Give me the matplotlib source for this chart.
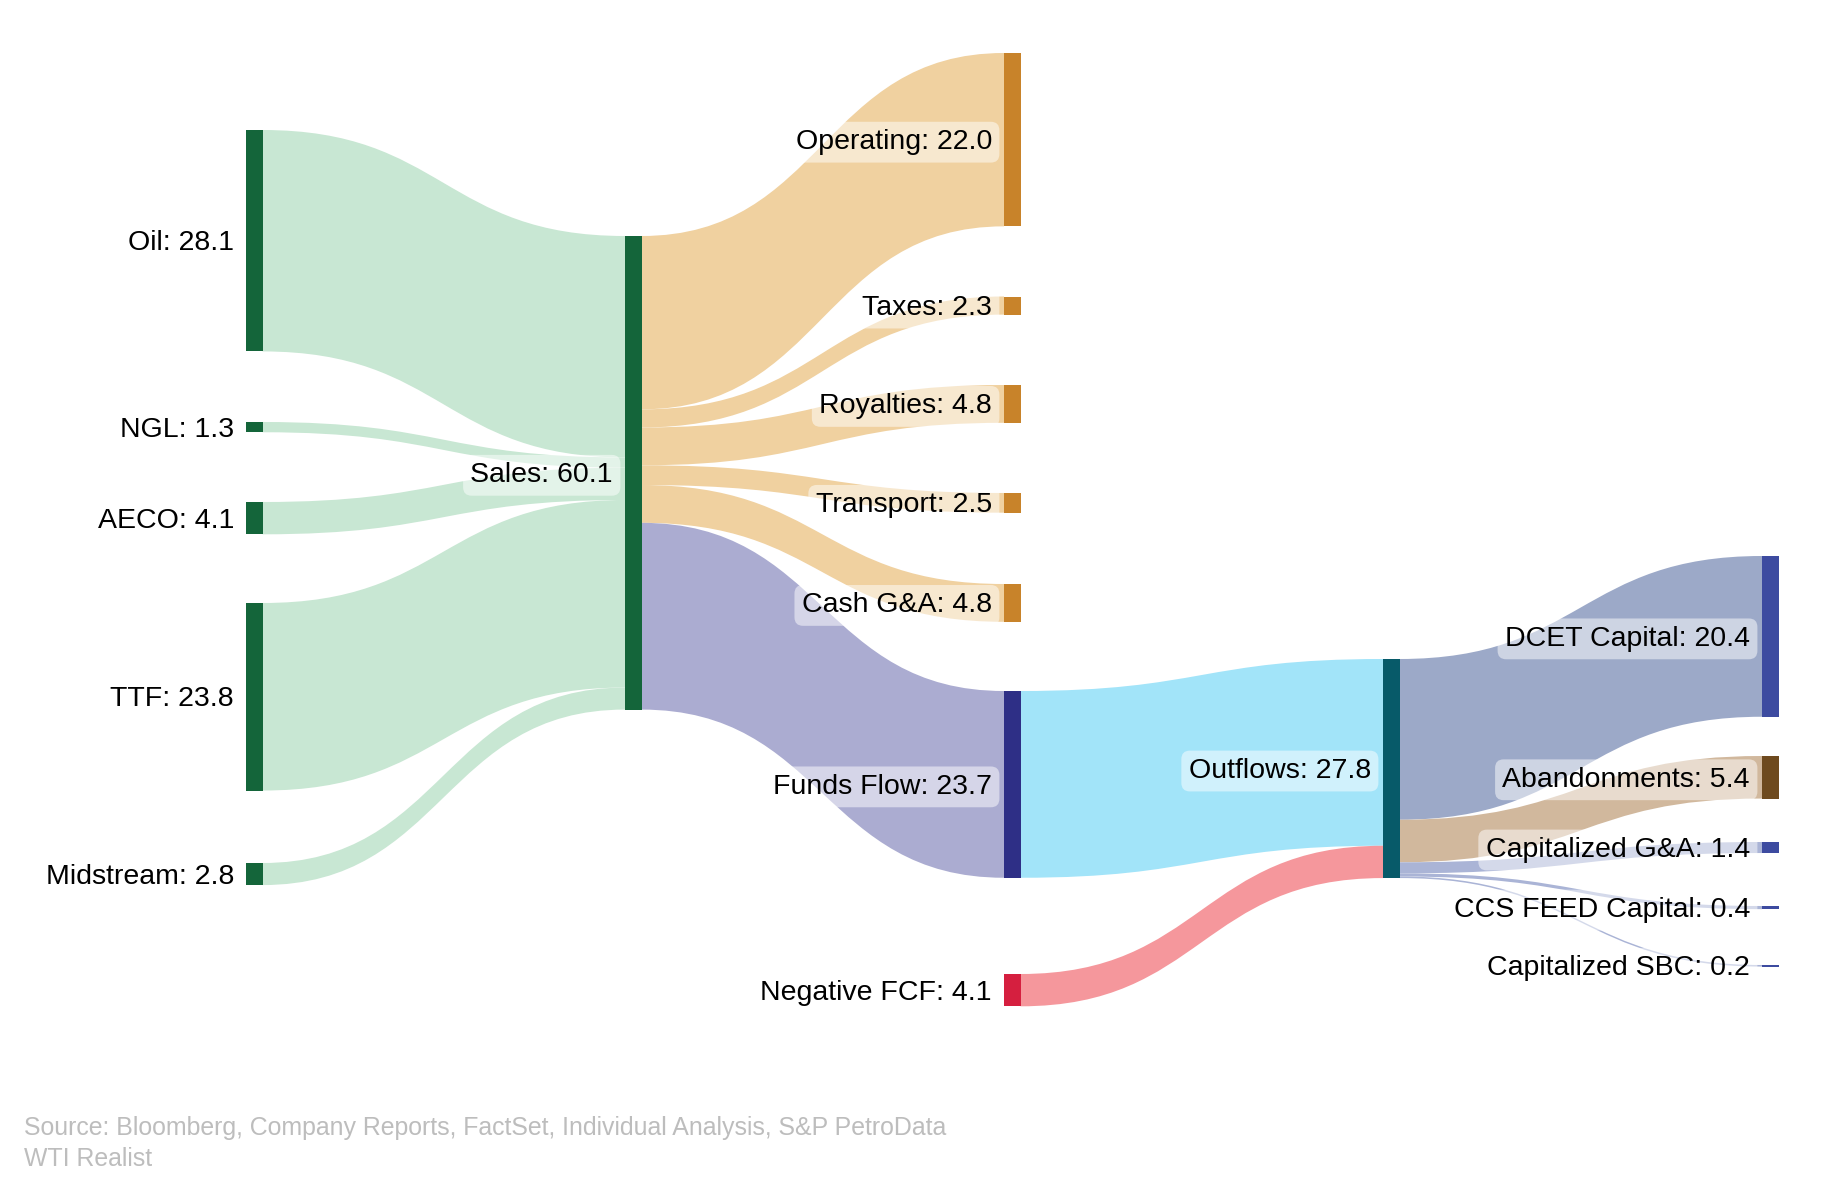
import matplotlib.pyplot as plt
import matplotlib as mpl
from matplotlib.path import Path
from matplotlib.patches import PathPatch, Rectangle

# ---- data ----
nodes = ['Oil', 'NGL', 'AECO', 'TTF', 'Midstream', 'Sales',
         'Operating', 'Taxes', 'Royalties', 'Transport', 'Cash G&A',
         'Funds Flow', 'Negative FCF', 'Outflows',
         'DCET Capital', 'Abandonments', 'Capitalized G&A',
         'CCS FEED Capital', 'Capitalized SBC']

link_source = ['Oil', 'NGL', 'AECO', 'TTF', 'Midstream',
               'Sales', 'Sales', 'Sales', 'Sales', 'Sales', 'Sales',
               'Funds Flow', 'Negative FCF',
               'Outflows', 'Outflows', 'Outflows', 'Outflows', 'Outflows']
link_target = ['Sales', 'Sales', 'Sales', 'Sales', 'Sales',
               'Operating', 'Taxes', 'Royalties', 'Transport', 'Cash G&A',
               'Funds Flow', 'Outflows', 'Outflows',
               'DCET Capital', 'Abandonments', 'Capitalized G&A',
               'CCS FEED Capital', 'Capitalized SBC']
link_value = [28.1, 1.3, 4.1, 23.8, 2.8,
              22.0, 2.3, 4.8, 2.5, 4.8, 23.7,
              23.7, 4.1,
              20.4, 5.4, 1.4, 0.4, 0.2]

source_note = ['Source: Bloomberg, Company Reports, FactSet, Individual Analysis, S&P PetroData',
               'WTI Realist']

# ---- layout (pixels) ----
W, H = 1823, 1194
px_per_unit = 7.88
node_w = 16.5
col_x = [246, 625, 1004, 1383, 1762]
node_col = [0, 0, 0, 0, 0, 1, 2, 2, 2, 2, 2, 2, 2, 3, 4, 4, 4, 4, 4]
node_top = [130, 422, 502, 603, 863, 236,
            53, 296.5, 385, 493, 584, 691, 974, 659,
            556, 756, 842, 906, 965]

green_dk = '#14653a'
green_lt = '#c8e7d3'
orange_dk = '#c8832a'
orange_lt = '#f0d1a0'
blue_dk = '#3d4ba0'
node_color = [green_dk] * 6 + [orange_dk] * 5 + ['#2e2f86', '#d51f3f', '#075a69',
              blue_dk, '#6e4a1e', blue_dk, blue_dk, blue_dk]
link_color = [green_lt] * 5 + [orange_lt] * 5 + ['#abacd1', '#a2e4f9', '#f5979c',
              '#9ca9c8', '#d1b89d', '#aab4d6', '#aab4d6', '#aab4d6']

mpl.rcParams['font.family'] = ['Liberation Sans', 'DejaVu Sans']

fig = plt.figure(figsize=(W / 100, H / 100), dpi=100)
ax = fig.add_axes([0, 0, 1, 1])
ax.set_xlim(0, W)
ax.set_ylim(H, 0)
ax.axis('off')

idx = {n: i for i, n in enumerate(nodes)}
val_in = [0.0] * len(nodes)
val_out = [0.0] * len(nodes)
for s, t, v in zip(link_source, link_target, link_value):
    val_out[idx[s]] += v
    val_in[idx[t]] += v
node_val = [max(a, b) for a, b in zip(val_in, val_out)]

# links
off_out = [0.0] * len(nodes)
off_in = [0.0] * len(nodes)
for s, t, v, c in zip(link_source, link_target, link_value, link_color):
    i, j = idx[s], idx[t]
    h = v * px_per_unit
    x0 = col_x[node_col[i]] + node_w
    x1 = col_x[node_col[j]]
    y0 = node_top[i] + off_out[i]
    y1 = node_top[j] + off_in[j]
    off_out[i] += h
    off_in[j] += h
    xm = (x0 + x1) / 2
    verts = [(x0, y0), (xm, y0), (xm, y1), (x1, y1),
             (x1, y1 + h), (xm, y1 + h), (xm, y0 + h), (x0, y0 + h),
             (x0, y0)]
    codes = [Path.MOVETO, Path.CURVE4, Path.CURVE4, Path.CURVE4,
             Path.LINETO, Path.CURVE4, Path.CURVE4, Path.CURVE4,
             Path.CLOSEPOLY]
    ax.add_patch(PathPatch(Path(verts, codes), facecolor=c,
                           edgecolor='none', zorder=1))

# nodes and labels
for i, n in enumerate(nodes):
    x = col_x[node_col[i]]
    h = node_val[i] * px_per_unit
    ax.add_patch(Rectangle((x, node_top[i]), node_w, h,
                           facecolor=node_color[i], edgecolor='none', zorder=2))
    ax.text(x - 12, node_top[i] + h / 2 + 2.5, f'{n}: {node_val[i]:.1f}',
            ha='right', va='center', fontsize=20.5, color='black', zorder=3,
            bbox=dict(boxstyle='round,pad=0.26,rounding_size=0.3',
                      facecolor=(1, 1, 1, 0.5), edgecolor='none'))

ax.text(24, 1135, source_note[0], ha='left', va='baseline',
        fontsize=17.9, color='#bdbdbd')
ax.text(24, 1166, source_note[1], ha='left', va='baseline',
        fontsize=17.9, color='#bdbdbd')

plt.savefig('out.png', dpi=100)
plt.close()
